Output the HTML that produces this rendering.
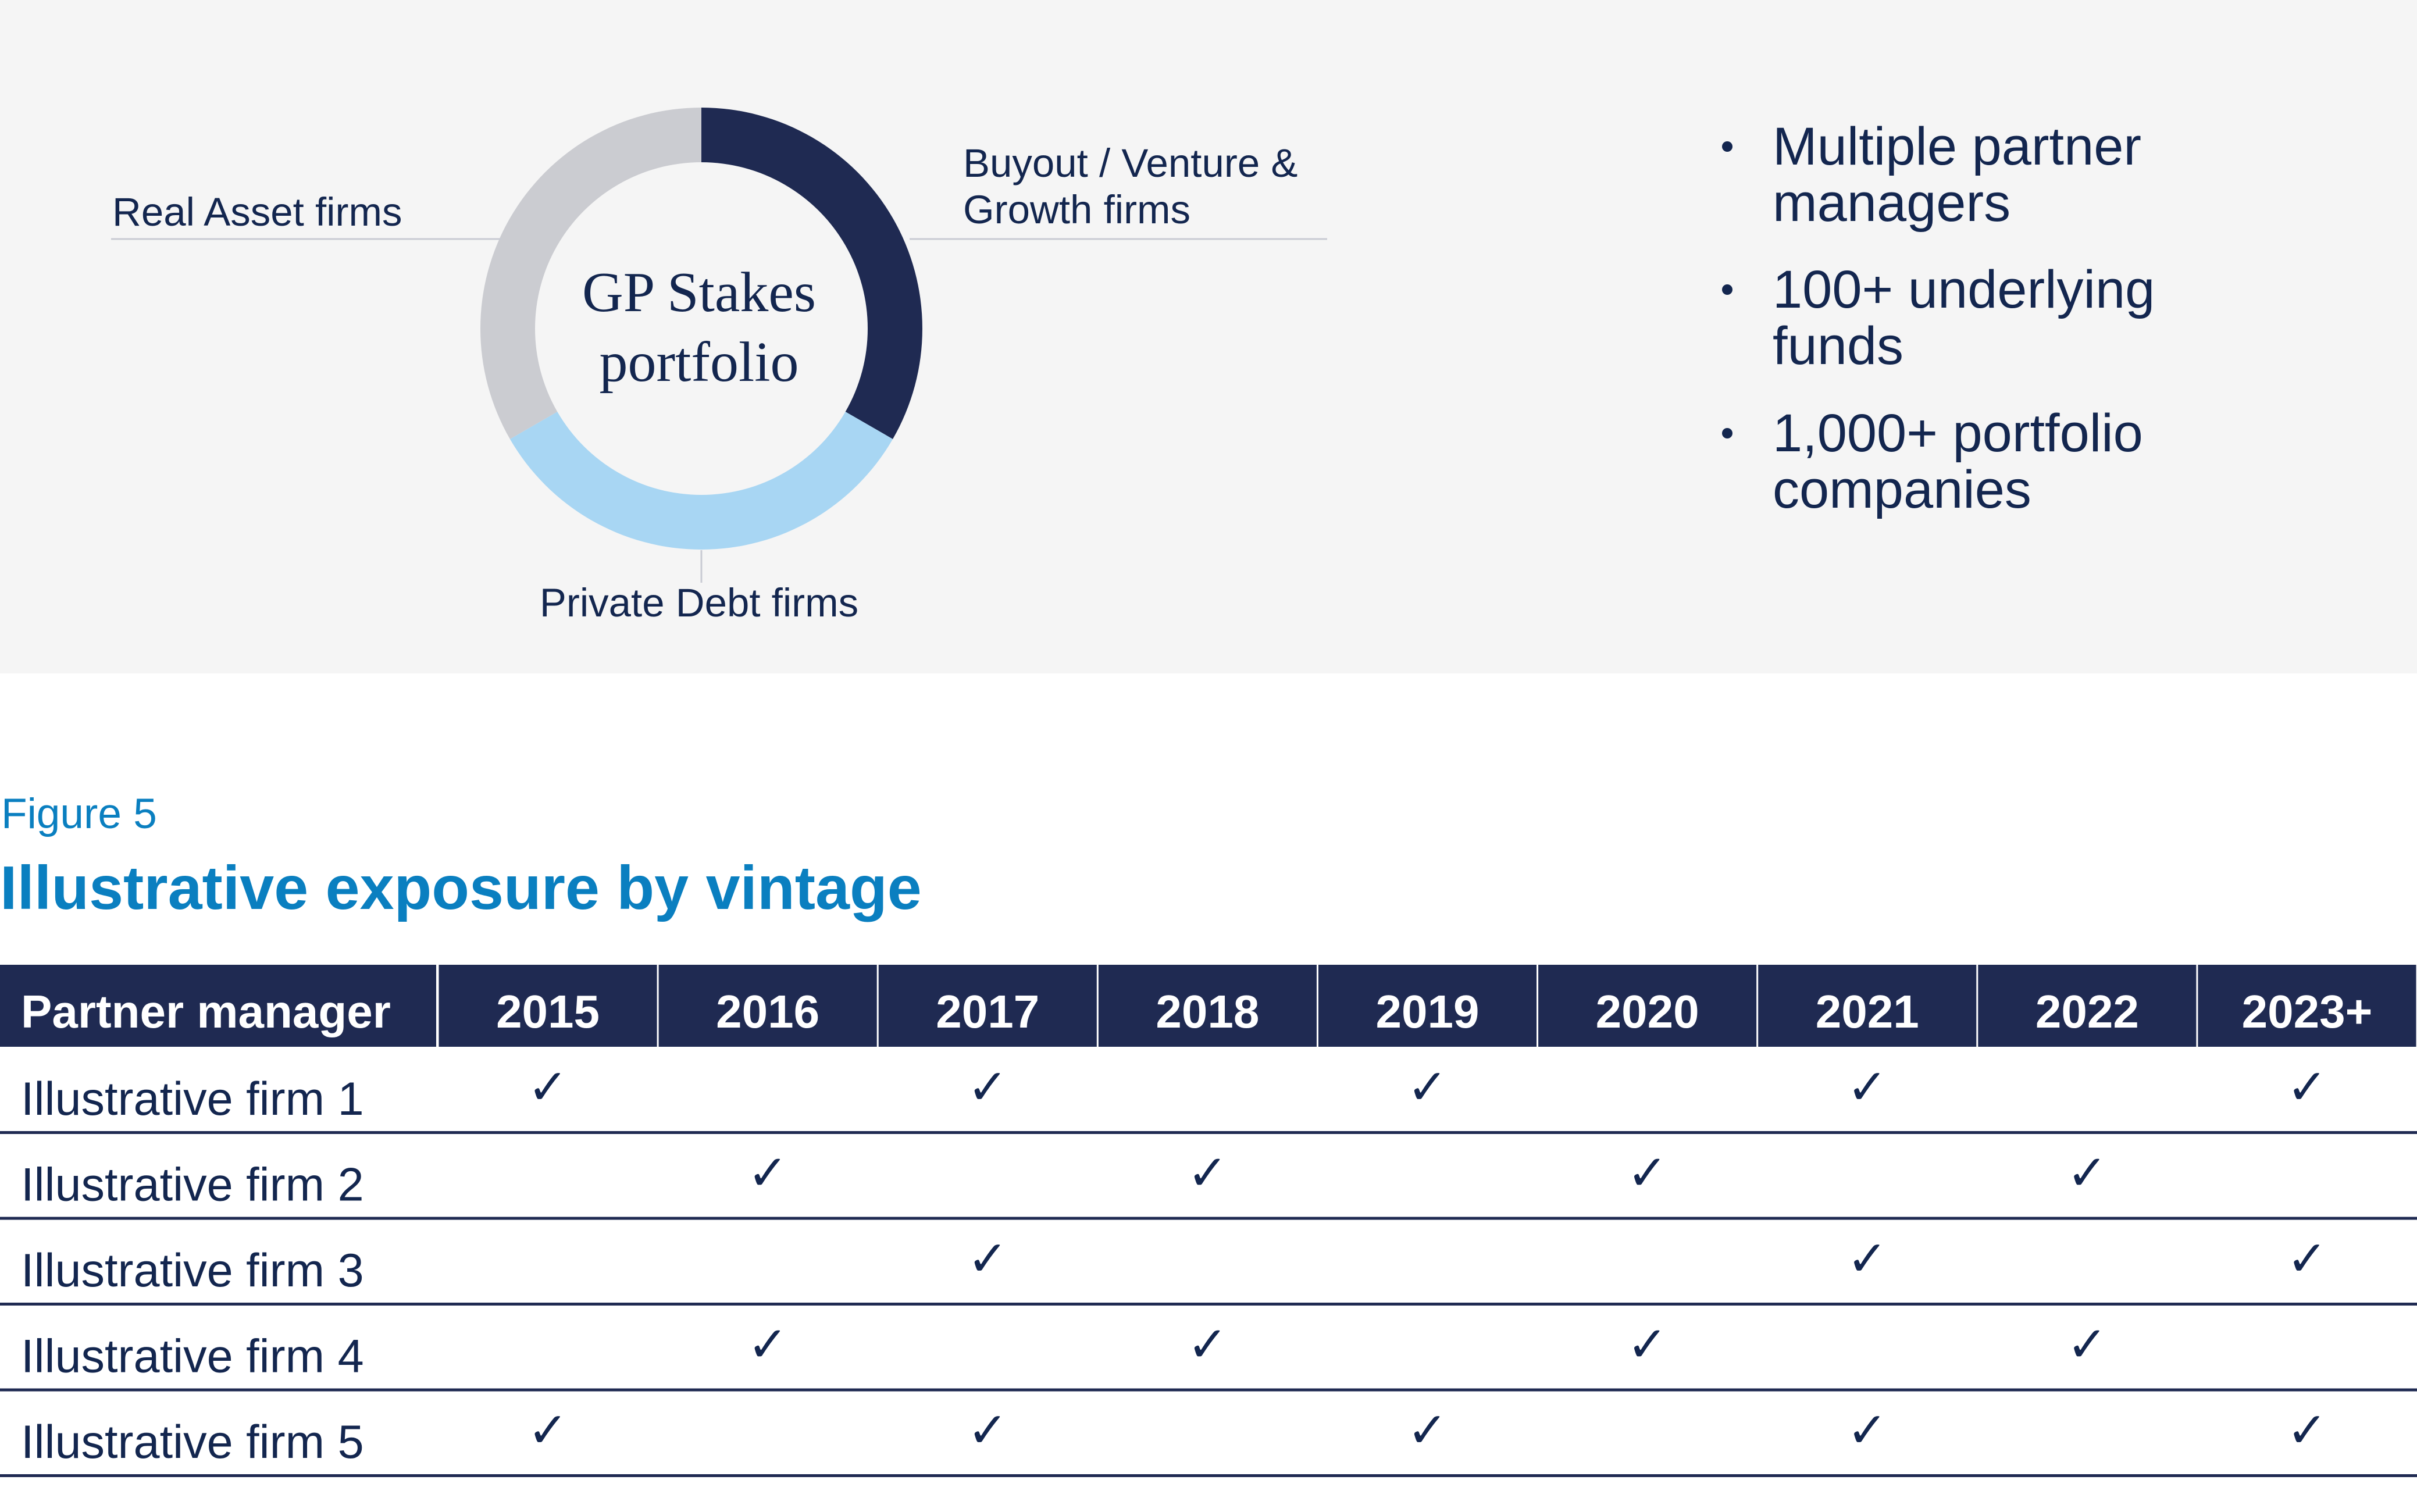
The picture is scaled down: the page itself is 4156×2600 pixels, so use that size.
<!DOCTYPE html>
<html><head><meta charset="utf-8">
<style>
html,body{margin:0;padding:0;background:#fff;}
svg{display:block;}
text{font-family:"Liberation Sans","DejaVu Sans",sans-serif;}
</style></head>
<body>
<svg id="chart" width="4156" height="2600" viewBox="0 0 4156 2600" xmlns="http://www.w3.org/2000/svg">
  <rect x="0" y="0" width="4156" height="1158" fill="#f5f5f5"/>
  <g id="donut"></g>
  <line x1="191" y1="411" x2="862" y2="411" stroke="#c9cbd3" stroke-width="3"/>
  <line x1="1564" y1="411" x2="2282" y2="411" stroke="#c9cbd3" stroke-width="3"/>
  <line x1="1206" y1="946" x2="1206" y2="1002" stroke="#c9cbd3" stroke-width="3"/>
  <text x="193" y="388" font-size="69" fill="#13264f">Real Asset firms</text>
  <text x="1656" y="304" font-size="69" fill="#13264f">Buyout / Venture &amp;</text>
  <text x="1656" y="384" font-size="69" fill="#13264f">Growth firms</text>
  <text x="1202" y="1060" font-size="69" fill="#13264f" text-anchor="middle">Private Debt firms</text>
  <text x="1202" y="535" font-size="98" fill="#13264f" text-anchor="middle" style="font-family:'Liberation Serif',serif">GP Stakes</text>
  <text x="1202" y="655" font-size="98" fill="#13264f" text-anchor="middle" style="font-family:'Liberation Serif',serif">portfolio</text>

  <g fill="#13264f" font-size="92">
    <circle cx="2970" cy="252" r="9"/>
    <text x="3048" y="283">Multiple partner</text>
    <text x="3048" y="380">managers</text>
    <circle cx="2970" cy="498" r="9"/>
    <text x="3048" y="529">100+ underlying</text>
    <text x="3048" y="626">funds</text>
    <circle cx="2970" cy="745" r="9"/>
    <text x="3048" y="776">1,000+ portfolio</text>
    <text x="3048" y="873">companies</text>
  </g>

  <text x="2" y="1424" font-size="73" fill="#0a7fc0">Figure 5</text>
  <text x="0" y="1563" font-size="106" font-weight="bold" fill="#0a7fc0">Illustrative exposure by vintage</text>
  <g id="table"></g>
</svg>
<script>
// Donut data
const segmentNames = ["Buyout / Venture & Growth firms", "Private Debt firms", "Real Asset firms"];
const segmentShares = [1, 1, 1];
const segmentColors = ["#1f2a52", "#a8d6f3", "#cbccd1"];

// Table data
const years = ["2015","2016","2017","2018","2019","2020","2021","2022","2023+"];
const firms = ["Illustrative firm 1","Illustrative firm 2","Illustrative firm 3","Illustrative firm 4","Illustrative firm 5"];
const firm1 = [1,0,1,0,1,0,1,0,1];
const firm2 = [0,1,0,1,0,1,0,1,0];
const firm3 = [0,0,1,0,0,0,1,0,1];
const firm4 = [0,1,0,1,0,1,0,1,0];
const firm5 = [1,0,1,0,1,0,1,0,1];
const exposure = [firm1, firm2, firm3, firm4, firm5];

const NS = "http://www.w3.org/2000/svg";
function mk(tag, attrs){const e=document.createElementNS(NS,tag);for(const k in attrs)e.setAttribute(k,attrs[k]);return e;}

// donut
(function(){
  const g=document.getElementById('donut');
  const cx=1206, cy=565, R=380, r=286;
  const total=segmentShares.reduce((a,b)=>a+b,0);
  let a0=0;
  function pt(rad,a){return [cx+rad*Math.sin(a), cy-rad*Math.cos(a)];}
  segmentShares.forEach((v,i)=>{
    const a1=a0+v/total*2*Math.PI;
    const large=(a1-a0)>Math.PI?1:0;
    const p0=pt(R,a0),p1=pt(R,a1),q1=pt(r,a1),q0=pt(r,a0);
    const d=`M${p0[0]},${p0[1]} A${R},${R} 0 ${large} 1 ${p1[0]},${p1[1]} L${q1[0]},${q1[1]} A${r},${r} 0 ${large} 0 ${q0[0]},${q0[1]} Z`;
    const p=mk('path',{d:d,fill:segmentColors[i]});
    
    
    g.appendChild(p);
    a0=a1;
  });
})();

// table
(function(){
  const g=document.getElementById('table');
  const top=1659, headH=141, firstW=753, colW=(4156-firstW)/years.length, rowH=147.5;
  const dark="#1f2a52";
  const h0=mk('rect',{x:0,y:top,width:firstW-3,height:headH,fill:dark});
  
  
  g.appendChild(h0);
  const ht=mk('text',{x:36,y:top+108,'font-size':80,'font-weight':'bold',fill:'#fff'});
  ht.textContent="Partner manager";
  
  
  g.appendChild(ht);
  years.forEach((y,j)=>{
    const x=firstW+j*colW;
    const c=mk('rect',{x:x+1.5,y:top,width:colW-3,height:headH,fill:dark});
    
    
    g.appendChild(c);
    const t=mk('text',{x:x+colW/2,y:top+108,'font-size':80,'font-weight':'bold',fill:'#fff','text-anchor':'middle'});
    t.textContent=y;
    
    
    g.appendChild(t);
  });
  firms.forEach((f,i)=>{
    const yTop=top+headH+i*rowH;
    const t=mk('text',{x:36,y:yTop+117,'font-size':81,fill:'#13264f'});
    t.textContent=f;
    
    
    g.appendChild(t);
    const ln=mk('line',{x1:0,x2:4156,y1:yTop+rowH,y2:yTop+rowH,stroke:dark,'stroke-width':5});
    
    
    g.appendChild(ln);
    exposure[i].forEach((v,j)=>{
      if(!v)return;
      const cx=firstW+j*colW+colW/2;
      const ck=mk('text',{x:cx,y:yTop+98,'font-size':84,fill:'#13264f','text-anchor':'middle',style:"font-family:'DejaVu Sans',sans-serif"});
      ck.textContent="\u2713";
      
      
      g.appendChild(ck);
    });
  });
})();
</script>
</body></html>
